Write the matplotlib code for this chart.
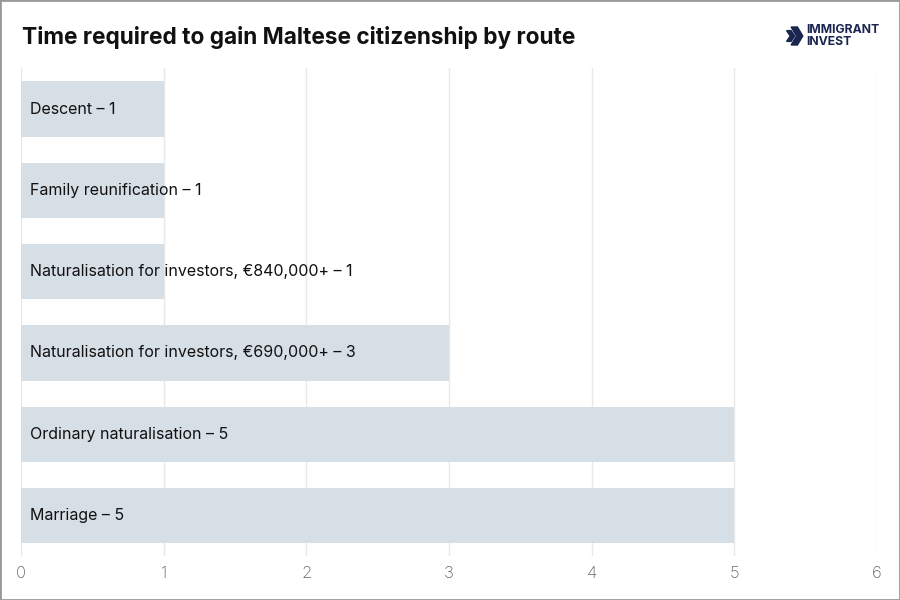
import matplotlib.pyplot as plt
from matplotlib.patches import Rectangle, Polygon

routes = ["Descent", "Family reunification",
          "Naturalisation for investors, €840,000+",
          "Naturalisation for investors, €690,000+",
          "Ordinary naturalisation", "Marriage"]
years = [1, 1, 1, 3, 5, 5]
xticks = [0, 1, 2, 3, 4, 5, 6]

plt.rcParams['font.family'] = ['Inter', 'DejaVu Sans']

fig = plt.figure(figsize=(9, 6), dpi=100)
ax = fig.add_axes([0.0233, 0.073, 0.9511, 0.813])

ypos = list(range(len(routes)))
ax.barh(ypos, years, height=0.68, color='#d6dee6', zorder=2)
for y, r, v in zip(ypos, routes, years):
    ax.annotate(f"{r} – {v}", (0, y), xytext=(6.5, 0), textcoords='offset points',
                va='center', ha='left', fontsize=11.5, color='#111111', zorder=3)

ax.set_xlim(0, 6)
ax.set_ylim(5.5, -0.5)
ax.set_xticks(xticks)
ax.set_yticks([])
ax.grid(axis='x', color='#e8e8e8', linewidth=1, zorder=1)
for s in ax.spines.values():
    s.set_visible(False)
ax.tick_params(axis='x', length=0, pad=7, labelsize=12, labelcolor='#666666')
for lbl in ax.get_xticklabels():
    lbl.set_fontweight('light')

fig.text(0.024, 0.937, "Time required to gain Maltese citizenship by route",
         fontsize=16.3, fontweight='bold', color='#111111', va='center')

# logo
navy = '#1a2550'
fig.patches.append(Polygon([[0.879, 0.955], [0.886, 0.955], [0.892, 0.940],
                            [0.886, 0.925], [0.879, 0.925], [0.885, 0.940]],
                           closed=True, transform=fig.transFigure, color=navy))
fig.patches.append(Polygon([[0.874, 0.949], [0.879, 0.949], [0.883, 0.940],
                            [0.879, 0.931], [0.874, 0.931], [0.878, 0.940]],
                           closed=True, transform=fig.transFigure, color=navy))
fig.text(0.896, 0.940, "IMMIGRANT\nINVEST", fontsize=8.8, fontweight='bold',
         color=navy, va='center', ha='left', linespacing=0.95)

fig.patches.append(Rectangle((0, 0), 1, 1, transform=fig.transFigure, fill=False,
                             edgecolor='#999999', linewidth=2))

fig.savefig("out.png", dpi=100)
